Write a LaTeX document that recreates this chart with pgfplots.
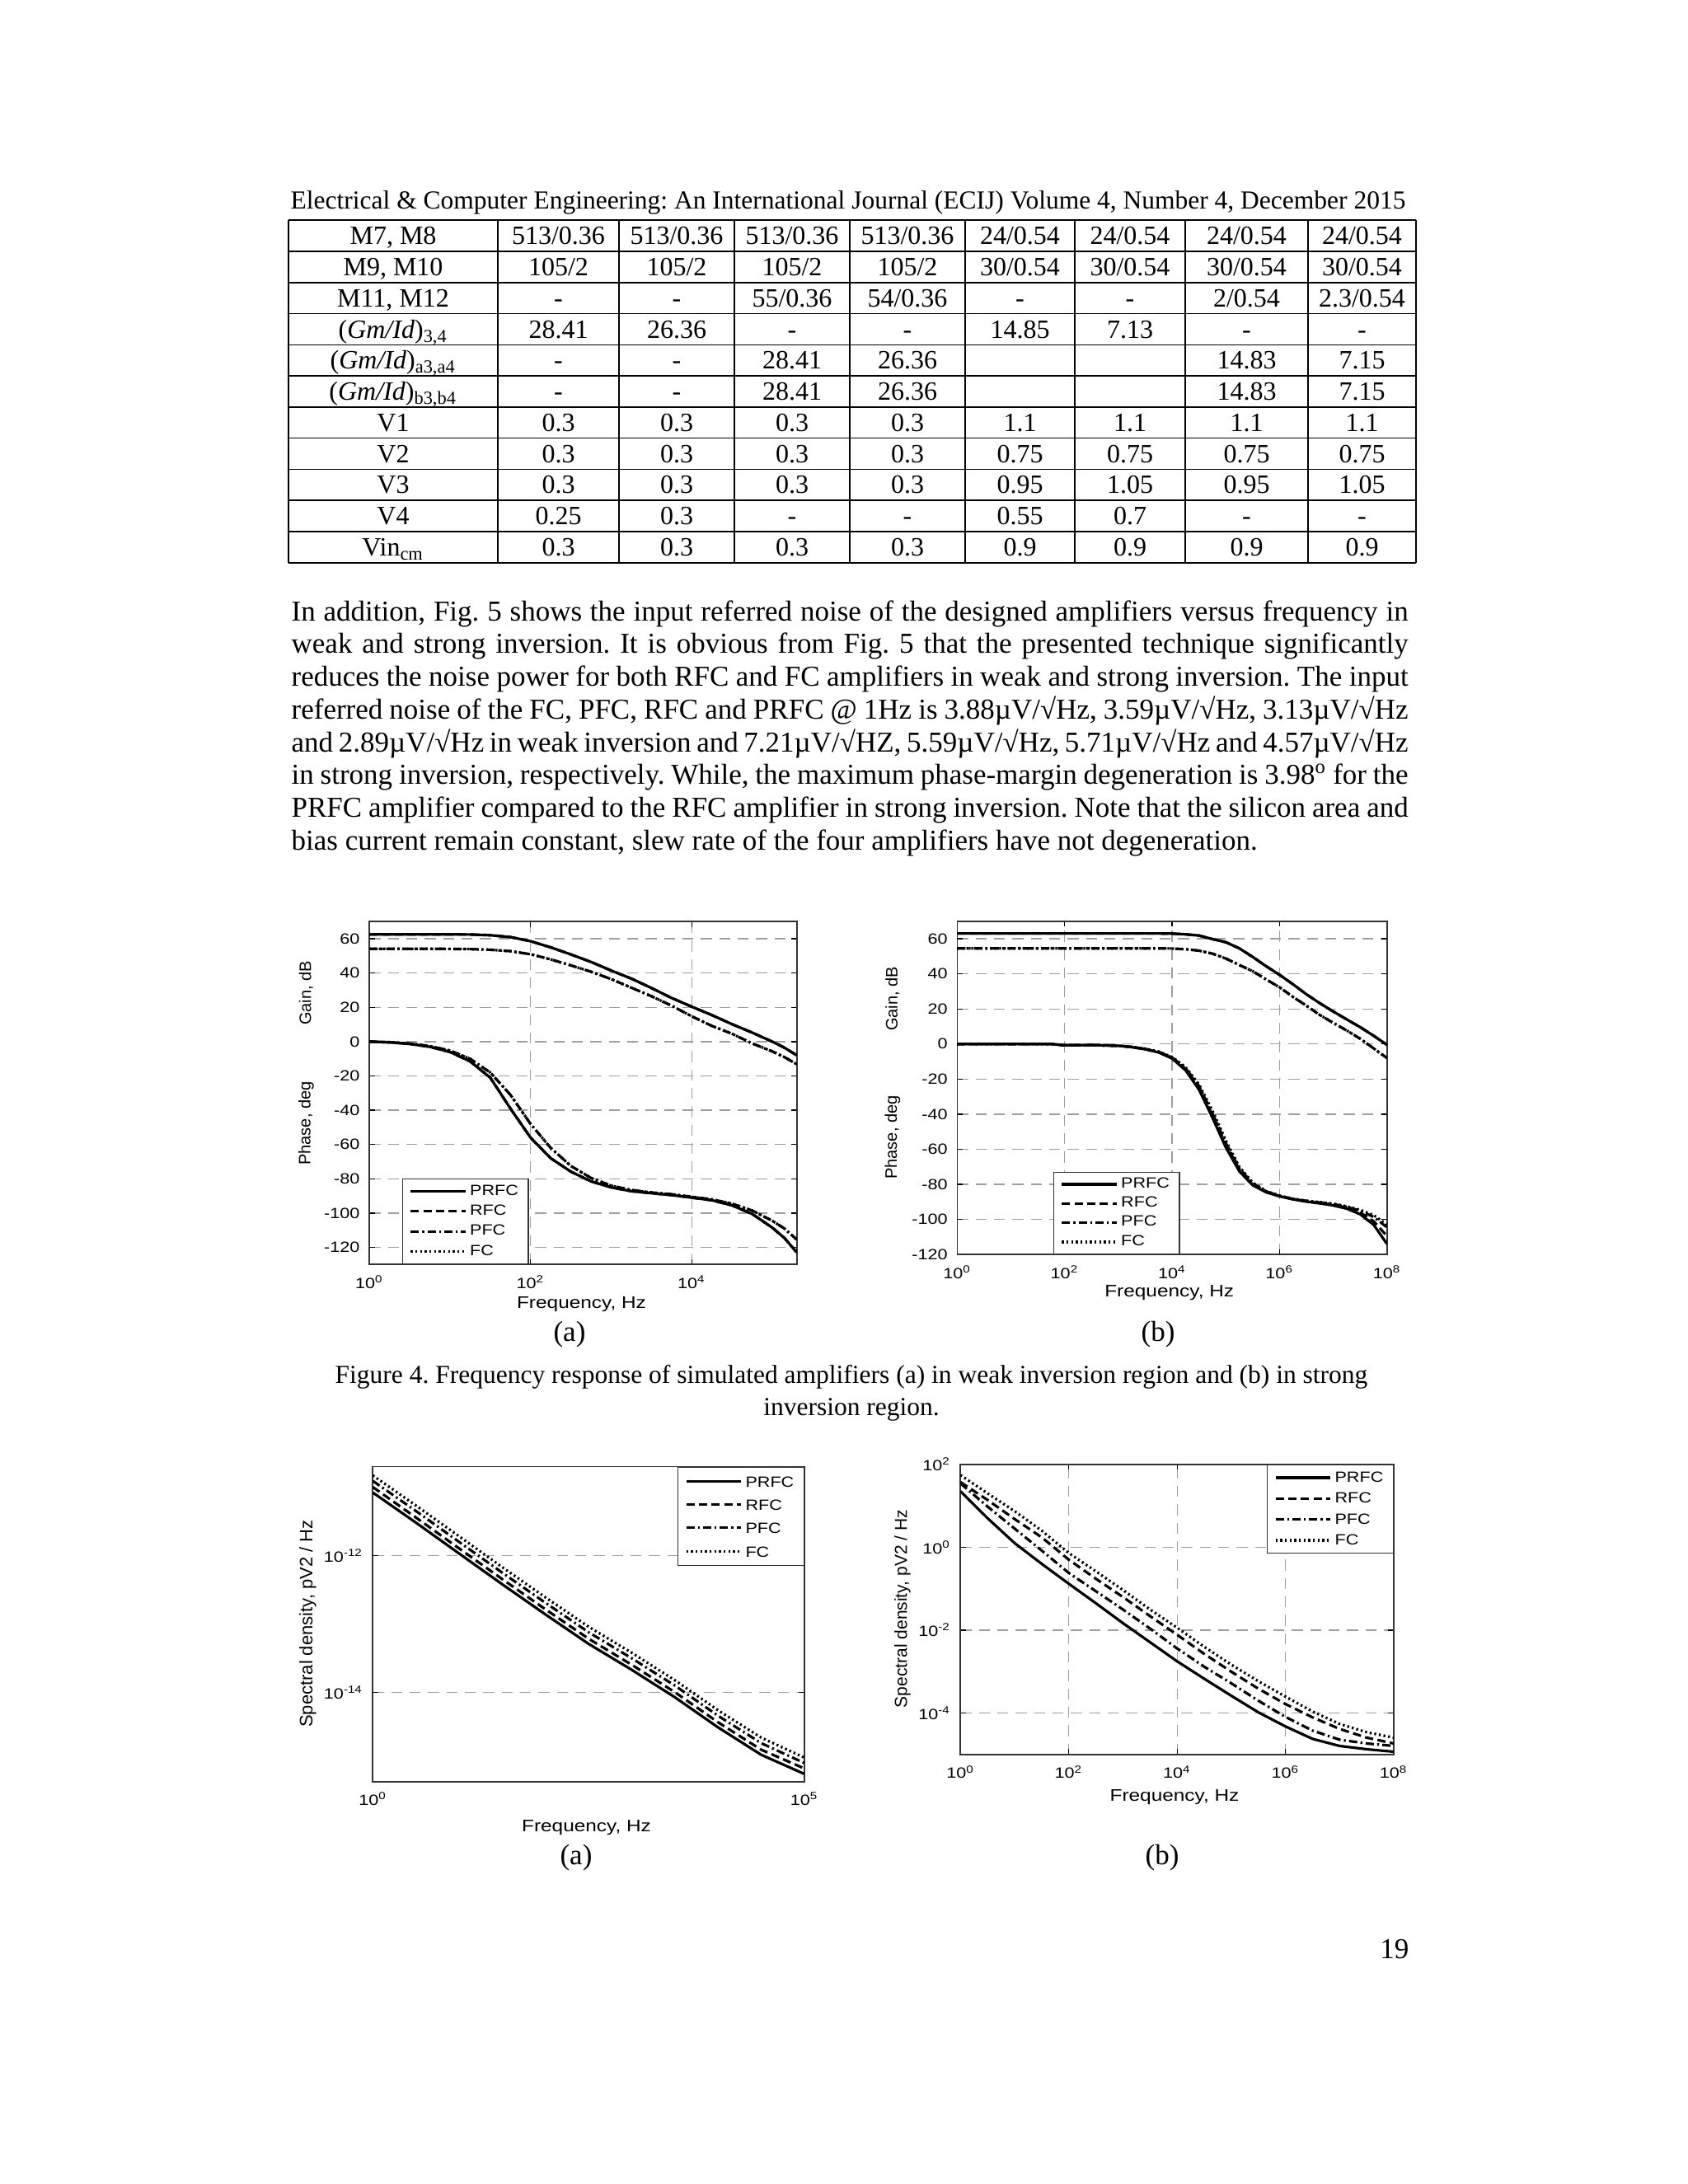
\documentclass[border=0pt]{standalone}
\usepackage{fontspec}
\setmainfont{Liberation Serif}
\newfontfamily\figfont[FakeStretch=1.2]{Liberation Sans}
\newfontfamily\figfontr{Liberation Sans}
\usepackage{pgfplots}
\usepackage{pgfplotstable}
\pgfplotsset{compat=1.18}

\newcommand\body{\fontsize{10.5}{11.92}\selectfont}
\newcommand\hfont{\fontsize{9.45}{11.92}\selectfont}
\newcommand\tfont{\fontsize{9.6}{11.5}\selectfont}
\newcommand\tickfont{\figfont\fontsize{5.4}{6}\selectfont}
\newcommand\legfont{\figfont\fontsize{5.4}{6.2}\selectfont}
\newcommand\labfont{\figfont\fontsize{6.1}{7}\selectfont}
\newcommand\rlabA{\figfontr\fontsize{6.0}{7}\selectfont}
\newcommand\rlabC{\figfontr\fontsize{6.6}{7.5}\selectfont}
\newcommand\rlabD{\figfontr\fontsize{6.3}{7.2}\selectfont}
\newcommand\pw[1]{10\textsuperscript{#1}}

% table cells: one row at baseline \ty
\newcommand\ty{0}
\newcommand\trow[9]{%
  \node at (477,\ty) {#1}; \node at (677.5,\ty) {#2}; \node at (821,\ty) {#3};
  \node at (961,\ty) {#4}; \node at (1101,\ty) {#5}; \node at (1237.5,\ty) {#6};
  \node at (1371,\ty) {#7}; \node at (1512.5,\ty) {#8}; \node at (1652.5,\ty) {#9};}
\newcommand\gm[1]{(\textit{Gm/Id})\textsubscript{#1}}

\pgfplotsset{
  page/.style={scale only axis, anchor=south west,
    axis line style={line width=0.5pt, black!80},
    tick style={black, line width=0.4pt}, major tick length=2pt, tick align=inside,
    xminorticks=false, yminorticks=false,
    major grid style={line width=0.4pt, gray!75, dash pattern=on 4pt off 2.7pt},
    tick label style={font=\tickfont}, xticklabel style={yshift=-0.5pt},
    legend cell align=left,
    legend image code/.code={\draw[##1] (0pt,0pt) -- (20pt,0pt);},
    legend style={draw=black!80, line width=0.4pt, fill=white, font=\legfont,
      inner xsep=2.5pt, inner ysep=0.9pt, row sep=0pt,
      nodes={inner sep=1.1pt, text height=4.0pt, text depth=1.1pt}}},
  prfc/.style={black, line width=0.95pt, solid, no marks, line join=round},
  rfc/.style={black, line width=0.95pt, dash pattern=on 3pt off 1.6pt, no marks, line join=round},
  pfc/.style={black, line width=0.95pt, dash pattern=on 3pt off 1.2pt on 0.7pt off 1.2pt, no marks, line join=round},
  fc/.style={black, line width=0.95pt, dash pattern=on 0.7pt off 1pt, no marks, line join=round}
}

% Fig. 4(a): weak inversion, gain and phase
\pgfplotstableread{
f g1 g3 p1 p3
1 62.6 54.2 0 0
1.778 62.6 54.2 -0.4 -0.3
3.162 62.6 54.2 -1.3 -1.1
5.623 62.6 54.2 -3.0 -2.6
10 62.6 54.1 -6.0 -5.2
17.78 62.5 54.0 -11.5 -10.0
31.62 62.1 53.6 -21.0 -18.0
56.23 61.0 52.8 -39.0 -31.0
100 58.6 51.0 -56.0 -48.0
177.8 55.0 48.0 -68.0 -62.0
316.2 50.9 44.5 -75.8 -72.5
562.3 46.5 40.8 -81.5 -79.5
1000 41.5 36.5 -85.0 -84.0
1778 36.8 31.5 -87.2 -86.5
3162 31.3 26.5 -88.4 -88.0
5623 25.5 21.0 -89.5 -89.0
10000 20.4 14.8 -91.0 -90.5
17783 15.5 9.2 -92.5 -92.0
31623 10.2 4.6 -95.5 -94.5
56234 5.3 -1.0 -100.5 -98.5
100000 0.0 -5.7 -108.5 -104.5
141254 -3.5 -9.0 -114.5 -109.0
201837 -8.0 -13.2 -123.0 -115.5
}\tabA

% Fig. 4(b): strong inversion
\pgfplotstableread{
f g1 g3 p1 p2 p3 p4
1 63.0 54.5 0 0 0 0
10 63.0 54.5 0 0 0 0
56.23 63.0 54.5 0 0 0 0
100 63.0 54.5 -0.7 -0.7 -0.7 -0.7
316.2 63.0 54.5 -0.6 -0.6 -0.6 -0.6
1000 63.0 54.5 -1.0 -1.0 -1.0 -1.0
1778 63.0 54.5 -1.8 -1.7 -1.7 -1.6
3162 63.0 54.5 -3.0 -2.9 -2.8 -2.7
5623 63.0 54.5 -4.8 -4.6 -4.5 -4.3
10000 62.9 54.4 -8.3 -7.9 -7.7 -7.4
17783 62.5 54.0 -15.0 -14.2 -13.8 -13.2
31623 61.8 53.2 -26.0 -24.8 -24.0 -23.0
56234 59.8 51.5 -42.0 -40.5 -39.5 -38.0
100000 58.0 48.7 -59.0 -57.5 -56.5 -55.0
177828 54.5 45.0 -72.5 -71.5 -70.8 -70.0
316228 49.6 41.5 -80.5 -80.0 -79.5 -79.0
562341 44.3 36.8 -84.5 -84.2 -84.0 -83.8
1000000 39.4 32.3 -86.8 -86.6 -86.5 -86.4
1778279 34.0 26.8 -88.5 -88.4 -88.3 -88.2
3162278 28.3 21.8 -89.8 -89.6 -89.4 -89.3
5623413 23.2 16.5 -90.8 -90.6 -90.3 -90.1
10000000 18.5 12.0 -92.0 -91.6 -91.2 -91.0
17782794 14.0 7.7 -93.8 -93.3 -92.8 -92.5
31622777 9.6 3.0 -97.0 -96.0 -95.0 -94.5
56234133 4.7 -2.5 -103.0 -101.0 -98.5 -97.5
100000000 -0.5 -8.0 -114.0 -109.5 -104.5 -103.0
}\tabB

% Fig. 5(a): noise, weak inversion
\pgfplotstableread{
f prfc rfc pfc fc
1 8.32e-12 1.00e-11 1.23e-11 1.48e-11
3.162 3.02e-12 3.59e-12 4.47e-12 5.37e-12
10 1.07e-12 1.27e-12 1.58e-12 1.91e-12
31.62 3.80e-13 4.52e-13 5.62e-13 6.76e-13
100 1.38e-13 1.64e-13 2.04e-13 2.45e-13
316.2 5.13e-14 6.10e-14 7.59e-14 9.12e-14
1000 2.14e-14 2.54e-14 3.16e-14 3.80e-14
3162 8.51e-15 1.01e-14 1.26e-14 1.51e-14
10000 3.09e-15 3.67e-15 4.57e-15 5.50e-15
31623 1.23e-15 1.46e-15 1.82e-15 2.19e-15
100000 6.46e-16 7.76e-16 9.33e-16 1.12e-15
}\tabC

% Fig. 5(b): noise, strong inversion
\pgfplotstableread{
f prfc rfc pfc fc
1 22.39 37.15 34.67 54.95
3.162 5.012 13.80 9.55 19.95
10 1.259 4.786 2.818 7.413
31.62 0.398 1.738 0.832 2.512
100 0.1318 0.501 0.240 0.7244
316.2 0.04467 0.1738 0.0871 0.263
1000 0.01479 0.0631 0.0316 0.0933
3162 5.13e-3 0.02188 0.01096 0.0316
10000 1.778e-3 7.76e-3 3.63e-3 0.01148
31623 6.76e-4 2.69e-3 1.318e-3 3.98e-3
100000 2.63e-4 1.0e-3 5.25e-4 1.479e-3
316228 1.047e-4 3.89e-4 2.00e-4 5.89e-4
1000000 4.79e-5 1.66e-4 8.13e-5 2.51e-4
3162278 2.40e-5 7.94e-5 3.80e-5 1.096e-4
10000000 1.62e-5 4.17e-5 2.29e-5 5.50e-5
31622777 1.35e-5 2.57e-5 1.86e-5 3.47e-5
100000000 1.175e-5 1.86e-5 1.62e-5 2.57e-5
}\tabD

\begin{document}
\frenchspacing
\begin{tikzpicture}
\fill[white] (0,0) rectangle (614.4pt,-795pt);

% ---- Fig 4 (a)
\begin{axis}[page, at={(134.46pt,-460.29pt)}, width=155.58pt, height=124.8pt,
  xmode=log, xmin=1, xmax=201837, ymin=-130, ymax=70, grid=major,
  xtick={1,100,10000}, xticklabels={\pw{0},\pw{2},\pw{4}},
  ytick={-120,-100,-80,-60,-40,-20,0,20,40,60},
  yticklabels={-120,-100,-80,-60,-40,-20,0,20,40,60},
  legend style={at={(0.076,0)}, anchor=south west}]
\addplot[prfc] table[x=f,y=g1]{\tabA}; \addlegendentry{PRFC}
\addplot[rfc] table[x=f,y=g1]{\tabA}; \addlegendentry{RFC}
\addplot[pfc] table[x=f,y=g3]{\tabA}; \addlegendentry{PFC}
\addplot[fc] table[x=f,y=g3]{\tabA}; \addlegendentry{FC}
\addplot[prfc, forget plot] table[x=f,y=p1]{\tabA};
\addplot[rfc, forget plot] table[x=f,y=p1]{\tabA};
\addplot[pfc, forget plot] table[x=f,y=p3]{\tabA};
\addplot[fc, forget plot] table[x=f,y=p3]{\tabA};
\end{axis}

% ---- Fig 4 (b)
\begin{axis}[page, at={(348.42pt,-456.69pt)}, width=156.45pt, height=121.38pt,
  xmode=log, xmin=1, xmax=1e8, ymin=-120, ymax=70, grid=major,
  xtick={1,100,1e4,1e6,1e8}, xticklabels={\pw{0},\pw{2},\pw{4},\pw{6},\pw{8}},
  ytick={-120,-100,-80,-60,-40,-20,0,20,40,60},
  yticklabels={-120,-100,-80,-60,-40,-20,0,20,40,60},
  legend style={at={(0.223,0)}, anchor=south west, nodes={text height=3.7pt}}]
\addplot[prfc] table[x=f,y=g1]{\tabB}; \addlegendentry{PRFC}
\addplot[rfc] table[x=f,y=g1]{\tabB}; \addlegendentry{RFC}
\addplot[pfc] table[x=f,y=g3]{\tabB}; \addlegendentry{PFC}
\addplot[fc] table[x=f,y=g3]{\tabB}; \addlegendentry{FC}
\addplot[prfc, forget plot] table[x=f,y=p1]{\tabB};
\addplot[rfc, forget plot] table[x=f,y=p2]{\tabB};
\addplot[pfc, forget plot] table[x=f,y=p3]{\tabB};
\addplot[fc, forget plot] table[x=f,y=p4]{\tabB};
\end{axis}

% ---- Fig 5 (a)
\begin{axis}[page, at={(135.69pt,-648.51pt)}, width=157.11pt, height=114.72pt,
  xmode=log, ymode=log, xmin=1, xmax=1e5, ymin=5e-16, ymax=2e-11,
  ymajorgrids=true, xmajorgrids=false,
  xtick={1,1e5}, xticklabels={\pw{0},\pw{5}},
  ytick={1e-14,1e-12}, yticklabels={\pw{-14},\pw{-12}},
  legend style={at={(1,1)}, anchor=north east, nodes={text height=5.2pt}}]
\addplot[prfc] table[x=f,y=prfc]{\tabC}; \addlegendentry{PRFC}
\addplot[rfc] table[x=f,y=rfc]{\tabC}; \addlegendentry{RFC}
\addplot[pfc] table[x=f,y=pfc]{\tabC}; \addlegendentry{PFC}
\addplot[fc] table[x=f,y=fc]{\tabC}; \addlegendentry{FC}
\end{axis}

% ---- Fig 5 (b)
\begin{axis}[page, at={(349.59pt,-638.7pt)}, width=157.71pt, height=105.69pt,
  xmode=log, ymode=log, xmin=1, xmax=1e8, ymin=1e-5, ymax=100, grid=major,
  xtick={1,100,1e4,1e6,1e8}, xticklabels={\pw{0},\pw{2},\pw{4},\pw{6},\pw{8}},
  ytick={1e-4,1e-2,1,100}, yticklabels={\pw{-4},\pw{-2},\pw{0},\pw{2}},
  legend style={at={(1,1)}, anchor=north east, nodes={text height=4.3pt}}]
\addplot[prfc] table[x=f,y=prfc]{\tabD}; \addlegendentry{PRFC}
\addplot[rfc] table[x=f,y=rfc]{\tabD}; \addlegendentry{RFC}
\addplot[pfc] table[x=f,y=pfc]{\tabD}; \addlegendentry{PFC}
\addplot[fc] table[x=f,y=fc]{\tabD}; \addlegendentry{FC}
\end{axis}

% ---- page text, in reference pixels (y downwards)
\begin{scope}[x=0.3pt, y=-0.3pt, every node/.style={inner sep=0pt}]
\node[anchor=base, font=\hfont] at (1029,253)
  {Electrical \& Computer Engineering: An International Journal (ECIJ) Volume 4, Number 4, December 2015};

% table
\begin{scope}[line width=0.5pt]
\foreach \x in {350,604,751,891,1031,1171,1304,1438,1587,1718}
  \draw (\x,267.3) -- (\x,682.7);
\foreach \k in {0,...,11}
  \draw (350,{267.3+37.76*\k}) -- (1718,{267.3+37.76*\k});
\end{scope}
\begin{scope}[every node/.style={anchor=base, inner sep=0pt, font=\tfont}]
\renewcommand\ty{296.7}\trow{M7, M8}{513/0.36}{513/0.36}{513/0.36}{513/0.36}{24/0.54}{24/0.54}{24/0.54}{24/0.54}
\renewcommand\ty{334.4}\trow{M9, M10}{105/2}{105/2}{105/2}{105/2}{30/0.54}{30/0.54}{30/0.54}{30/0.54}
\renewcommand\ty{372.2}\trow{M11, M12}{-}{-}{55/0.36}{54/0.36}{-}{-}{2/0.54}{2.3/0.54}
\renewcommand\ty{410.0}\trow{\gm{3,4}}{28.41}{26.36}{-}{-}{14.85}{7.13}{-}{-}
\renewcommand\ty{447.7}\trow{\gm{a3,a4}}{-}{-}{28.41}{26.36}{}{}{14.83}{7.15}
\renewcommand\ty{485.5}\trow{\gm{b3,b4}}{-}{-}{28.41}{26.36}{}{}{14.83}{7.15}
\renewcommand\ty{523.3}\trow{V1}{0.3}{0.3}{0.3}{0.3}{1.1}{1.1}{1.1}{1.1}
\renewcommand\ty{561.0}\trow{V2}{0.3}{0.3}{0.3}{0.3}{0.75}{0.75}{0.75}{0.75}
\renewcommand\ty{598.8}\trow{V3}{0.3}{0.3}{0.3}{0.3}{0.95}{1.05}{0.95}{1.05}
\renewcommand\ty{636.5}\trow{V4}{0.25}{0.3}{-}{-}{0.55}{0.7}{-}{-}
\renewcommand\ty{674.3}\trow{Vin\textsubscript{cm}}{0.3}{0.3}{0.3}{0.3}{0.9}{0.9}{0.9}{0.9}
\end{scope}

% paragraph
\begin{scope}[every node/.style={anchor=base west, inner sep=0pt, font=\body}]
\node at (353,753) {\makebox[406.5pt][s]{In addition, Fig. 5 shows the input referred noise of the designed amplifiers versus frequency in}};
\node at (353,792.8) {\makebox[406.5pt][s]{weak and strong inversion. It is obvious from Fig. 5 that the presented technique significantly}};
\node at (353,832.5) {\makebox[406.5pt][s]{reduces the noise power for both RFC and FC amplifiers in weak and strong inversion. The input}};
\node at (353,872.3) {\makebox[406.5pt][s]{referred noise of the FC, PFC, RFC and PRFC @ 1Hz is 3.88µV/√Hz, 3.59µV/√Hz, 3.13µV/√Hz}};
\node at (353,912) {\makebox[406.5pt][s]{and 2.89µV/√Hz in weak inversion and 7.21µV/√HZ, 5.59µV/√Hz, 5.71µV/√Hz and 4.57µV/√Hz}};
\node at (353,951.8) {\makebox[406.5pt][s]{in strong inversion, respectively. While, the maximum phase-margin degeneration is 3.98\textsuperscript{o} for the}};
\node at (353,991.5) {\makebox[406.5pt][s]{PRFC amplifier compared to the RFC amplifier in strong inversion. Note that the silicon area and}};
\node at (353,1031.3) {bias current remain constant, slew rate of the four amplifiers have not degeneration.};
\end{scope}

% axis labels of the four plots
\node[rotate=90, font=\rlabA] at (371.5,1205) {Gain, dB};
\node[rotate=90, font=\rlabA] at (371.5,1363) {Phase, deg};
\node[rotate=90, font=\rlabA] at (1083,1212) {Gain, dB};
\node[rotate=90, font=\rlabA] at (1083,1380) {Phase, deg};
\node[rotate=90, font=\rlabC] at (373.5,1970) {Spectral density, pV2 / Hz};
\node[rotate=90, font=\rlabD] at (1095,1952) {Spectral density, pV2 / Hz};
\node[anchor=base, font=\labfont] at (705.5,1587) {Frequency, Hz};
\node[anchor=base, font=\labfont] at (1418.7,1573) {Frequency, Hz};
\node[anchor=base, font=\labfont] at (711.5,2222) {Frequency, Hz};
\node[anchor=base, font=\labfont] at (1425,2185) {Frequency, Hz};

% sub-labels, caption, page number
\begin{scope}[every node/.style={anchor=base, inner sep=0pt, font=\body}]
\node at (691,1627) {(a)};
\node at (1405,1627) {(b)};
\node[font=\hfont] at (1033,1678) {Figure 4. Frequency response of simulated amplifiers (a) in weak inversion region and (b) in strong};
\node[font=\hfont] at (1033,1717.5) {inversion region.};
\node at (699,2262) {(a)};
\node at (1410,2262) {(b)};
\node[anchor=base east] at (1710,2376) {19};
\end{scope}
\end{scope}
\end{tikzpicture}
\end{document}
